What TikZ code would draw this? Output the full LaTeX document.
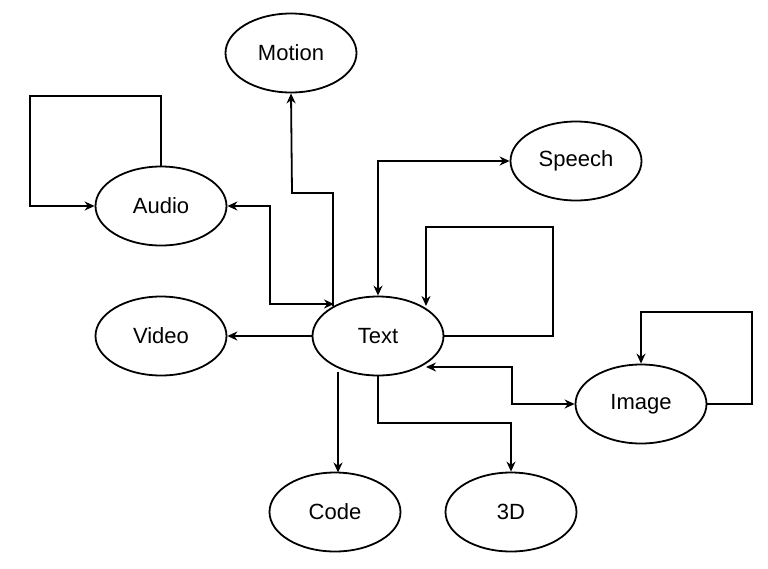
\documentclass[tikz,border=0pt]{standalone}
\usepackage{fontspec}
\setmainfont{Liberation Sans}
\usetikzlibrary{shapes.geometric,arrows.meta}
\begin{document}
\begin{tikzpicture}[x=1pt,y=-1pt,
  el/.style={draw,line width=1.8pt,ellipse,minimum width=131pt,minimum height=79pt,inner sep=0pt,font=\fontsize{22}{26}\selectfont},
  ar/.style={line width=1.8pt,-{Stealth[length=10pt,width=9pt]}},
  dar/.style={line width=1.8pt,{Stealth[length=10pt,width=9pt]}-{Stealth[length=10pt,width=9pt]}}]
\useasboundingbox (0,0) rectangle (768,568);
\node[el] (Motion) at (291,53) {Motion};
\node[el] (Audio) at (161,206) {Audio};
\node[el] (Speech) at (576,161) {Speech};
\node[el] (Text) at (378,336) {Text};
\node[el] (Video) at (161,336) {Video};
\node[el] (Image) at (641,404) {Image};
\node[el] (Code) at (335,512) {Code};
\node[el] (3D) at (511,512) {3D};
\coordinate (tA) at (334,304);
\coordinate (tM) at (333,306);
\coordinate (tS) at (426,306);
\coordinate (tI) at (426,367);
\coordinate (tC) at (338,372);
\draw[ar] (Audio.north) -- (161,96) -- (30,96) -- (30,206) -- (Audio.west);
\draw[dar] (Audio.east) -| (270,304) -- (tA);
\draw[ar] (tM) -- (333,193) -- (292,193) -- (Motion.south);
\draw[dar] (Text.north) |- (Speech.west);
\draw[ar] (Text.east) -| (553,227) -| (tS);
\draw[ar] (Text.west) -- (Video.east);
\draw[dar] (tI) -| (512,404) -- (Image.west);
\draw[ar] (Image.east) -| (752,312) -| (Image.north);
\draw[ar] (tC) -- (338,472.5);
\draw[ar] (Text.south) -- (378,423) -| (3D.north);
\end{tikzpicture}
\end{document}
